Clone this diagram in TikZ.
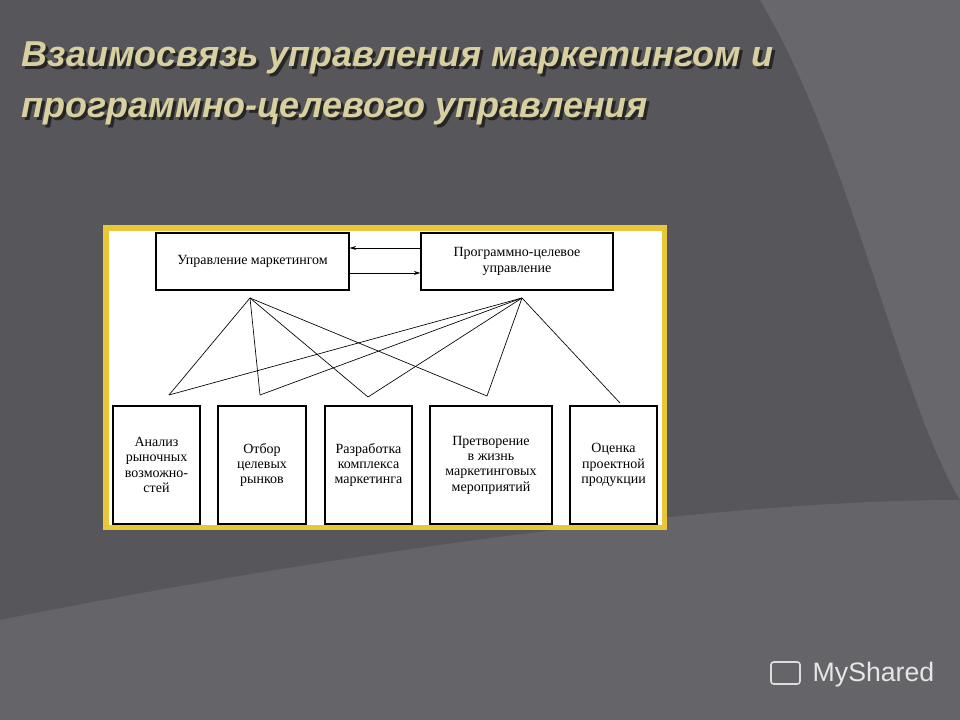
\documentclass[tikz,border=0pt]{standalone}
\usepackage{fontspec}
\setmainfont{Liberation Serif}
\newfontfamily\titlefont{Liberation Sans}
\usetikzlibrary{arrows.meta}
\definecolor{bg}{HTML}{57565B}
\definecolor{bgl}{HTML}{68676C}
\definecolor{ttl}{HTML}{D8D0A0}
\definecolor{frm}{HTML}{E8C838}
\begin{document}
\begin{tikzpicture}[x=0.75pt,y=-0.75pt,
  bx/.style={draw,line width=0.8pt,fill=white,align=center,inner sep=0pt,font=\fontsize{10.5}{11.5}\selectfont},
  ln/.style={line width=0.5pt}]
\useasboundingbox (0,0) rectangle (960,720);
\fill[bg] (0,0) rectangle (960,720);
\fill[bgl] (760,0) .. controls (850,150) and (900,400) .. (960,500) -- (960,0) -- cycle;
\fill[bgl!80!bg] (0,620) .. controls (300,560) and (700,500) .. (960,500) -- (960,720) -- (0,720) -- cycle;
\foreach \dy/\t in {67/{Взаимосвязь управления маркетингом и},118/{программно-целевого управления}}{
  \node[anchor=base west,text=black!85,font=\titlefont\bfseries\itshape\fontsize{27}{30}\selectfont] at (20,\dy+2.5) {\t};
  \node[anchor=base west,text=ttl,font=\titlefont\bfseries\itshape\fontsize{27}{30}\selectfont] at (17,\dy) {\t};}
\node[anchor=west,text=white!85!bg,font=\titlefont\fontsize{20}{22}\selectfont] (logo) at (808,675) {MyShared};
\draw[white!80!bg,line width=1.2pt,rounded corners=2pt] (771,662) rectangle (800,684);
\fill[frm] (103,225) rectangle (667,530);
\fill[white] (109,231) rectangle (662,525);
\node[bx,minimum width=144.75pt,minimum height=42.75pt] (um) at (252.5,261.5) {Управление маркетингом};
\node[bx,minimum width=144pt,minimum height=42.75pt] (pc) at (517,261.5) {Программно-целевое\\управление};
\draw[-{Stealth[length=5pt,width=3pt]},ln] (pc.west |- 0,248) -- (um.east |- 0,248);
\draw[-{Stealth[length=5pt,width=3pt]},ln] (um.east |- 0,273) -- (pc.west |- 0,273);
\coordinate (a1) at (250,298);
\coordinate (a2) at (522,298);
\coordinate (b1) at (169,395);
\coordinate (b2) at (260,395);
\coordinate (b3) at (368,397);
\coordinate (b4) at (487,396);
\coordinate (b5) at (620,403);
\foreach \b in {b1,b2,b3,b4}{\draw[ln] (a1) -- (\b);}
\foreach \b in {b1,b2,b3,b4,b5}{\draw[ln] (a2) -- (\b);}
\node[bx,minimum width=65.25pt,minimum height=88.5pt] (c1) at (156.5,465) {Анализ\\рыночных\\возможно-\\стей};
\node[bx,minimum width=66pt,minimum height=88.5pt] (c2) at (262,465) {Отбор\\целевых\\рынков};
\node[bx,minimum width=65.25pt,minimum height=88.5pt] (c3) at (368.5,465) {Разработка\\комплекса\\маркетинга};
\node[bx,minimum width=91.5pt,minimum height=88.5pt] (c4) at (491,465) {Претворение\\в жизнь\\маркетинговых\\мероприятий};
\node[bx,minimum width=65.25pt,minimum height=88.5pt] (c5) at (613.5,465) {Оценка\\проектной\\продукции};
\end{tikzpicture}
\end{document}
